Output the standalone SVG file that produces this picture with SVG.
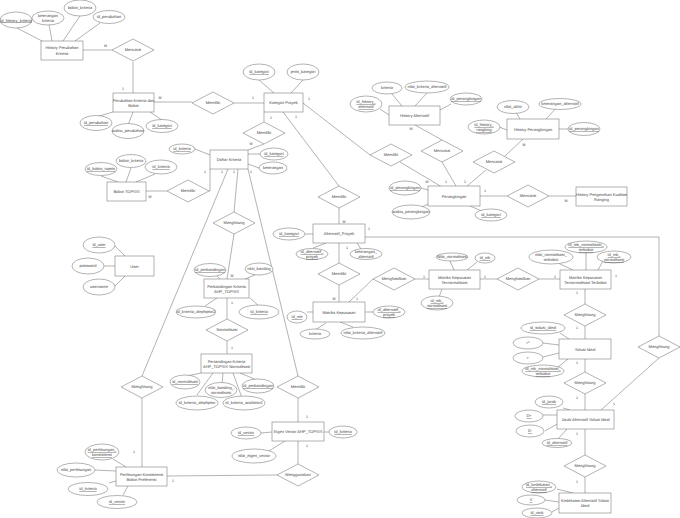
<svg xmlns="http://www.w3.org/2000/svg" width="680" height="518" viewBox="0 0 680 518">
<style>
text{font-family:"Liberation Sans",Arial,sans-serif;font-size:4px;fill:#444;text-anchor:middle;text-rendering:geometricPrecision}
.u{text-decoration:underline}
.e,.r,.d{fill:#fff;stroke:#666;stroke-width:.5}
#connectors path{fill:none;stroke:#666;stroke-width:.5}
.c{font-size:3.6px}
</style>
<rect width="680" height="518" fill="#fff"/>
<g id="connectors">
<path d="M17 28L42 41M49 24L52 41M80 16L63 41M100 23L75 41M83 50H112M133 62V93M154 102H192M234 103H264M113 112L96 117M133 112L128 125M150 112L162 120"/>
<path d="M259 80L274 93M303 80L291 93M264 112V122M264 144L248 150M303 103L370 155M400 162L442 187M283 112L339 186M339 208V224"/>
<path d="M387 88L402 106M427 93L415 106M380 109L389 115M451 104L440 110M415 125L442 140M442 162L456 186"/>
<path d="M513 107L520 119M560 104L546 119M499 127L507 130M568 129H559M505 156L523 139M486 170L466 187M480 196H507M549 196H576M421 188L428 190M411 212L428 204M491 215L470 206"/>
<path d="M195 149L210 155M260 154H248M259 168L248 164M210 169V191H209M146 191H167M101 176L118 182M131 168L126 182M155 174L136 182"/>
<path d="M115 246L125 256M104 266H115M115 286L125 276"/>
<path d="M228 169L142 376M142 398V467M238 169L234 212M234 234L227 279M248 169L298 376M227 298V319M227 341V354"/>
<path d="M216 275L220 279M245 279L255 275M205 306L217 298M260 307L250 298"/>
<path d="M187 376L201 373M197 395L213 373M222 385L223 373M242 398L233 373M257 380L240 373"/>
<path d="M113 459L126 467M95 470L116 471M109 483L116 481M123 495L128 486M167 476L277 475"/>
<path d="M298 398V422M298 441V464M261 433L272 432M269 451L285 441M329 432H324"/>
<path d="M305 234H313M313 248L326 243M361 249L357 243M339 243V263M339 285V302M307 312H313M326 323L315 330M353 327L340 322M365 312H373M349 302L373 279M415 279H429"/>
<path d="M450 261L454 270M477 262L467 270M439 297L442 289M480 279H497M539 279H560M586 253V270M558 263L573 270M603 261L598 270"/>
<path d="M585 289V304M585 326V339M585 359V372M585 394V410M585 429V455M585 477V493"/>
<path d="M560 333L569 339M543 343L559 345M543 357L559 353M558 367L568 359M563 408L570 410M543 415H557M545 431L557 424M558 439L567 429M557 489L573 493M545 500L559 502M552 512L559 508"/>
<path d="M365 237H659V336M659 358L601 410"/>
<g class="card">
<text class="c" x="105.500" y="47">M</text><text class="c" x="123" y="90">1</text><text class="c" x="160" y="99">M</text><text class="c" x="253" y="99">1</text>
<text class="c" x="309" y="100">1</text><text class="c" x="271" y="119">1</text><text class="c" x="296" y="118">1</text><text class="c" x="251" y="145">M</text>
<text class="c" x="411" y="130">M</text><text class="c" x="427" y="183">M</text><text class="c" x="446" y="183">1</text><text class="c" x="465" y="183">1</text><text class="c" x="524" y="146">M</text><text class="c" x="485" y="192">1</text><text class="c" x="566" y="202">M</text>
<text class="c" x="344" y="223">M</text><text class="c" x="369" y="230">1</text><text class="c" x="347" y="249">1</text><text class="c" x="334" y="300">M</text><text class="c" x="357" y="300">1</text><text class="c" x="424" y="278">1</text><text class="c" x="485" y="278">1</text>
<text class="c" x="555" y="278">1</text><text class="c" x="616" y="277">1</text><text class="c" x="577" y="294">1</text><text class="c" x="577" y="329">1</text><text class="c" x="577" y="364">1</text><text class="c" x="577" y="399">1</text><text class="c" x="614" y="405">1</text><text class="c" x="577" y="435">1</text><text class="c" x="577" y="483">1</text>
<text class="c" x="205" y="173">1</text><text class="c" x="222" y="173">1</text><text class="c" x="234" y="173">1</text><text class="c" x="251" y="173">1</text><text class="c" x="150" y="198">M</text><text class="c" x="232" y="277">M</text><text class="c" x="232" y="304">1</text><text class="c" x="232" y="349">1</text><text class="c" x="134" y="453">1</text><text class="c" x="173" y="482">1</text><text class="c" x="307" y="418">1</text><text class="c" x="307" y="447">1</text>
</g>
</g>
<g id="history-perubahan"><rect class="r" x="41" y="41" width="42" height="19"/><text x="62" y="49">History Perubahan</text><text x="62" y="55">Kriteria</text></g>
<g id="a-id-history-kriteria"><ellipse class="e" cx="16" cy="20" rx="16" ry="8"/><text class="u" x="16" y="21.500">id_history_kriteria</text></g>
<g id="a-keterangan-kriteria"><ellipse class="e" cx="48" cy="18" rx="16" ry="7"/><text x="48" y="16.500">keterangan</text><text x="48" y="21.500">kriteria</text></g>
<g id="a-bobot-kriteria"><ellipse class="e" cx="80" cy="8" rx="16" ry="8"/><text x="80" y="9.400">bobot_kriteria</text></g>
<g id="a-id-perubahan"><ellipse class="e" cx="109" cy="17" rx="16" ry="6.500"/><text x="109" y="18.400">id_perubahan</text></g>
<g id="r-mencatat-1"><polygon class="d" points="112,50 133,39 154,50 133,61"/><text x="133" y="51.400">Mencatat</text></g>
<g id="perubahan-kriteria"><rect class="r" x="113" y="93" width="41" height="19"/><text x="133.500" y="101.500">Perubahan Kriteria dan</text><text x="133.500" y="106.500">Bobot</text></g>
<g id="a-id-perubahan-2"><ellipse class="e" cx="96" cy="123" rx="16" ry="7.500"/><text class="u" x="96" y="124.400">id_perubahan</text></g>
<g id="a-waktu-perubahan"><ellipse class="e" cx="128" cy="131" rx="16" ry="7.500"/><text x="128" y="132.400">waktu_perubahan</text></g>
<g id="a-id-kategori-1"><ellipse class="e" cx="162" cy="126" rx="16" ry="6.500"/><text class="u" x="162" y="127.400">id_kategori</text></g>
<g id="r-memiliki-1"><polygon class="d" points="192,103 213,92 234,103 213,114"/><text x="213" y="104.400">Memiliki</text></g>
<g id="kategori-proyek"><rect class="r" x="264" y="93" width="39" height="19"/><text x="283.500" y="104">Kategori Proyek</text></g>
<g id="a-id-kategori-2"><ellipse class="e" cx="259" cy="72" rx="16" ry="8"/><text class="u" x="259" y="73.400">id_kategori</text></g>
<g id="a-jenis-kategori"><ellipse class="e" cx="303" cy="72" rx="16" ry="8"/><text x="303" y="73.400">jenis_kategori</text></g>
<g id="r-memiliki-2"><polygon class="d" points="243,133 264,122 285,133 264,144"/><text x="264" y="134.400">Memiliki</text></g>
<g id="r-memiliki-3"><polygon class="d" points="370,155 391,144 412,155 391,166"/><text x="391" y="156.400">Memiliki</text></g>
<g id="r-memiliki-4"><polygon class="d" points="318,197 339,186 360,197 339,208"/><text x="339" y="198.400">Memiliki</text></g>
<g id="history-alternatif"><rect class="r" x="389" y="106" width="51" height="19"/><text x="414.500" y="117">History Alternatif</text></g>
<g id="a-kriteria-ha"><ellipse class="e" cx="387" cy="88" rx="15" ry="6"/><text x="387" y="89.400">kriteria</text></g>
<g id="a-nilai-ha"><ellipse class="e" cx="427" cy="87" rx="22" ry="6"/><text x="427" y="88.400">nilai_kriteria_alternatif</text></g>
<g id="a-id-history-alternatif"><ellipse class="e" cx="366" cy="104" rx="16" ry="8"/><text class="u" x="366" y="103">id_history_</text><text class="u" x="366" y="108">alternatif</text></g>
<g id="a-id-perangkingan-1"><ellipse class="e" cx="466" cy="99" rx="16" ry="6"/><text class="u" x="466" y="100.400">id_perangkingan</text></g>
<g id="r-mencatat-2"><polygon class="d" points="421,151 442,140 463,151 442,162"/><text x="442" y="152.400">Mencatat</text></g>
<g id="history-perangkingan"><rect class="r" x="507" y="119" width="52" height="20"/><text x="533" y="130.500">History Perangkingan</text></g>
<g id="a-nilai-akhir"><ellipse class="e" cx="513" cy="107" rx="16" ry="6.500"/><text x="513" y="108.400">nilai_akhir</text></g>
<g id="a-ket-alt-1"><ellipse class="e" cx="560" cy="104" rx="21" ry="5.500"/><text x="560" y="105.400">keterangan_alternatif</text></g>
<g id="a-id-history-rangking"><ellipse class="e" cx="484" cy="127" rx="16" ry="7"/><text class="u" x="484" y="126">id_history_</text><text class="u" x="484" y="131">rangking</text></g>
<g id="a-id-perangkingan-2"><ellipse class="e" cx="584" cy="129" rx="16" ry="6.500"/><text class="u" x="584" y="130.400">id_perangkingan</text></g>
<g id="r-mencatat-3"><polygon class="d" points="473,162 494,151 515,162 494,173"/><text x="494" y="163.400">Mencatat</text></g>
<g id="perangkingan"><rect class="r" x="428" y="186" width="52" height="20"/><text x="454" y="197.500">Perangkingan</text></g>
<g id="a-id-perangkingan-3"><ellipse class="e" cx="405" cy="188" rx="16" ry="7"/><text class="u" x="405" y="189.400">id_perangkingan</text></g>
<g id="a-waktu-perangkingan"><ellipse class="e" cx="411" cy="212" rx="19" ry="7"/><text x="411" y="213.400">waktu_perangkingan</text></g>
<g id="a-id-kategori-3"><ellipse class="e" cx="491" cy="215" rx="16" ry="6"/><text class="u" x="491" y="216.400">id_kategori</text></g>
<g id="r-mencatat-4"><polygon class="d" points="507,196 528,185 549,196 528,207"/><text x="528" y="197.400">Mencatat</text></g>
<g id="history-pengecekan"><rect class="r" x="576" y="187" width="51" height="19"/><text x="601.500" y="195.500">History Pengecekan Kualitas</text><text x="601.500" y="200.500">Ranging</text></g>
<g id="daftar-kriteria"><rect class="r" x="210" y="150" width="38" height="19"/><text x="229" y="161">Daftar Kriteria</text></g>
<g id="a-id-kriteria-1"><ellipse class="e" cx="182" cy="149" rx="13" ry="5"/><text class="u" x="182" y="150.400">id_kriteria</text></g>
<g id="a-id-kategori-4"><ellipse class="e" cx="274" cy="154" rx="14" ry="6"/><text class="u" x="274" y="155.400">id_kategori</text></g>
<g id="a-keterangan"><ellipse class="e" cx="273" cy="168" rx="14" ry="6"/><text x="273" y="169.400">keterangan</text></g>
<g id="bobot-topsis"><rect class="r" x="107" y="182" width="39" height="19"/><text x="126.500" y="193">Bobot TOPSIS</text></g>
<g id="a-id-bobot"><ellipse class="e" cx="101" cy="169" rx="16" ry="6.500"/><text class="u" x="101" y="170.400">id_bobot_topsis</text></g>
<g id="a-bobot-kriteria-2"><ellipse class="e" cx="131" cy="161" rx="15" ry="6.500"/><text x="131" y="162.400">bobot_kriteria</text></g>
<g id="a-id-kriteria-2"><ellipse class="e" cx="161" cy="167" rx="16" ry="7"/><text class="u" x="161" y="168.400">id_kriteria</text></g>
<g id="r-memiliki-5"><polygon class="d" points="167,191 188,180 209,191 188,202"/><text x="188" y="192.400">Memiliki</text></g>
<g id="user"><rect class="r" x="115" y="256" width="39" height="20"/><text x="134.500" y="267.500">User</text></g>
<g id="a-id-user"><ellipse class="e" cx="99" cy="245" rx="16" ry="8"/><text class="u" x="99" y="246.400">id_user</text></g>
<g id="a-password"><ellipse class="e" cx="88" cy="266" rx="16" ry="8"/><text x="88" y="267.400">password</text></g>
<g id="a-username"><ellipse class="e" cx="99" cy="287" rx="16" ry="8"/><text x="99" y="288.400">username</text></g>
<g id="r-menghitung-1"><polygon class="d" points="213,223 234,212 255,223 234,234"/><text x="234" y="224.400">Menghitung</text></g>
<g id="perbandingan-kriteria"><rect class="r" x="204" y="279" width="45" height="19"/><text x="226.500" y="287.500">Perbandingan Kriteria</text><text x="226.500" y="292.500">AHP_TOPSIS</text></g>
<g id="a-id-perbandingan-1"><ellipse class="e" cx="210" cy="270" rx="16" ry="6.500"/><text class="u" x="210" y="271.400">id_perbandingan</text></g>
<g id="a-nilai-banding"><ellipse class="e" cx="259" cy="269" rx="14" ry="6"/><text x="259" y="270.400">nilai_banding</text></g>
<g id="a-id-kriteria-aleph2"><ellipse class="e" cx="196" cy="312" rx="20" ry="6"/><text x="196" y="313.400">id_kriteria_alephpisn2</text></g>
<g id="a-id-kriteria-3"><ellipse class="e" cx="259" cy="312" rx="20" ry="7"/><text class="u" x="259" y="313.400">id_kriteria</text></g>
<g id="r-normalisasi"><polygon class="d" points="206,330 227,319 248,330 227,341"/><text x="227" y="331.400">Normalisasi</text></g>
<g id="perbandingan-normalisasi"><rect class="r" x="201" y="354" width="51" height="19"/><text x="226.500" y="362.500">Pertandingan Kriteria</text><text x="226.500" y="367.500">AHP_TOPSIS Normalisasi</text></g>
<g id="a-id-normalisasi"><ellipse class="e" cx="185" cy="382" rx="15" ry="7"/><text class="u" x="185" y="383.400">id_normalisasi</text></g>
<g id="a-nilai-banding-norm"><ellipse class="e" cx="221" cy="390" rx="16" ry="7.500"/><text x="221" y="389">nilai_banding_</text><text x="221" y="394">normalisasi</text></g>
<g id="a-id-perbandingan-2"><ellipse class="e" cx="258" cy="386" rx="16" ry="7"/><text class="u" x="258" y="387.400">id_perbandingan</text></g>
<g id="a-id-kriteria-aleph"><ellipse class="e" cx="197" cy="403" rx="21" ry="7"/><text x="197" y="404.400">id_kriteria_alephpisn</text></g>
<g id="a-id-kriteria-anal"><ellipse class="e" cx="244" cy="403" rx="21" ry="7"/><text x="244" y="404.400">id_kriteria_analisisn2</text></g>
<g id="r-menghitung-2"><polygon class="d" points="121,387 142,376 163,387 142,398"/><text x="142" y="388.400">Menghitung</text></g>
<g id="perhitungan-konsistensi"><rect class="r" x="116" y="467" width="51" height="19"/><text x="141.500" y="475.500">Perhitungan Konsistensi</text><text x="141.500" y="480.500">Bobot Preferensi</text></g>
<g id="a-id-perhitungan"><ellipse class="e" cx="102" cy="452" rx="17" ry="8"/><text class="u" x="102" y="451">id_perhitungan_</text><text class="u" x="102" y="456">konsistensi</text></g>
<g id="a-nilai-perhitungan"><ellipse class="e" cx="76" cy="470" rx="19" ry="7"/><text x="76" y="471.400">nilai_perhitungan</text></g>
<g id="a-id-kriteria-4"><ellipse class="e" cx="88" cy="489" rx="20" ry="6.500"/><text class="u" x="88" y="490.400">id_kriteria</text></g>
<g id="a-id-vector-1"><ellipse class="e" cx="117" cy="502" rx="20" ry="6.500"/><text class="u" x="117" y="503.400">id_vector</text></g>
<g id="r-memiliki-6"><polygon class="d" points="277,387 298,376 319,387 298,398"/><text x="298" y="388.400">Memiliki</text></g>
<g id="eigen-vector"><rect class="r" x="272" y="422" width="52" height="19"/><text x="298" y="433">Eigen Vector AHP_TOPSIS</text></g>
<g id="a-id-vector-2"><ellipse class="e" cx="246" cy="433" rx="15" ry="6"/><text class="u" x="246" y="434.400">id_vector</text></g>
<g id="a-nilai-eigen"><ellipse class="e" cx="254" cy="456" rx="22" ry="7"/><text x="254" y="457.400">nilai_eigen_vector</text></g>
<g id="a-id-kriteria-5"><ellipse class="e" cx="343" cy="432" rx="14" ry="6"/><text class="u" x="343" y="433.400">id_kriteria</text></g>
<g id="r-menggunakan"><polygon class="d" points="277,475 298,464 319,475 298,486"/><text x="298" y="476.400">Menggunakan</text></g>
<g id="alternatif-proyek"><rect class="r" x="313" y="224" width="52" height="19"/><text x="339" y="235">Alternatif_Proyek</text></g>
<g id="a-id-kategori-5"><ellipse class="e" cx="289" cy="234" rx="16" ry="6"/><text class="u" x="289" y="235.400">id_kategori</text></g>
<g id="a-id-alternatif"><ellipse class="e" cx="312" cy="254" rx="16" ry="5.500"/><text class="u" x="312" y="253">id_alternatif_</text><text class="u" x="312" y="258">proyek</text></g>
<g id="a-ket-alt-2"><ellipse class="e" cx="366" cy="254" rx="16" ry="5.500"/><text x="366" y="253">keterangan_</text><text x="366" y="258">alternatif</text></g>
<g id="r-memiliki-7"><polygon class="d" points="318,274 339,263 360,274 339,285"/><text x="339" y="275.400">Memiliki</text></g>
<g id="matriks-keputusan"><rect class="r" x="313" y="302" width="52" height="20"/><text x="339" y="313.500">Matriks Keputusan</text></g>
<g id="a-id-me"><ellipse class="e" cx="297" cy="317" rx="10" ry="6"/><text class="u" x="297" y="318.400">id_me</text></g>
<g id="a-kriteria-mk"><ellipse class="e" cx="315" cy="334" rx="15" ry="5"/><text x="315" y="335.400">kriteria</text></g>
<g id="a-nilai-mk"><ellipse class="e" cx="363" cy="333" rx="22" ry="6"/><text x="363" y="334.400">nilai_kriteria_alternatif</text></g>
<g id="a-id-alt-proyek"><ellipse class="e" cx="389" cy="312" rx="16" ry="6"/><text class="u" x="389" y="311">id_alternatif_</text><text class="u" x="389" y="316">proyek</text></g>
<g id="r-menghasilkan-1"><polygon class="d" points="373,279 394,268 415,279 394,290"/><text x="394" y="280.400">Menghasilkan</text></g>
<g id="matriks-ternormalisasi"><rect class="r" x="429" y="270" width="51" height="19"/><text x="454.500" y="278.500">Matriks Keputusan</text><text x="454.500" y="283.500">Ternormalisasi</text></g>
<g id="a-nilai-norm"><ellipse class="e" cx="452" cy="257" rx="16" ry="4"/><text x="452" y="258.400">Nilai_normalisasi</text></g>
<g id="a-id-mk"><ellipse class="e" cx="485" cy="258" rx="10" ry="5"/><text class="u" x="485" y="259.400">id_mk</text></g>
<g id="a-id-mk-norm"><ellipse class="e" cx="437" cy="303" rx="16" ry="7"/><text class="u" x="437" y="302">id_mk_</text><text class="u" x="437" y="307">normalisasi</text></g>
<g id="r-menghasilkan-2"><polygon class="d" points="497,279 518,268 539,279 518,290"/><text x="518" y="280.400">Menghasilkan</text></g>
<g id="matriks-terbobot"><rect class="r" x="560" y="270" width="51" height="19"/><text x="585.500" y="278.500">Matriks Keputusan</text><text x="585.500" y="283.500">Ternormalisasi Terbobot</text></g>
<g id="a-id-mk-terbobot"><ellipse class="e" cx="586" cy="247" rx="21" ry="6"/><text class="u" x="586" y="246">id_mk_normalisasi_</text><text class="u" x="586" y="251">terbobot</text></g>
<g id="a-nilai-terbobot"><ellipse class="e" cx="551" cy="257" rx="22" ry="7"/><text x="551" y="256">nilai_normalisasi_</text><text x="551" y="261">terbobot</text></g>
<g id="a-id-mk-norm-2"><ellipse class="e" cx="614" cy="257" rx="17" ry="6"/><text class="u" x="614" y="256">id_mk_</text><text class="u" x="614" y="261">normalisasi</text></g>
<g id="r-menghitung-3"><polygon class="d" points="564,315 585,304 606,315 585,326"/><text x="585" y="316.400">Menghitung</text></g>
<g id="solusi-ideal"><rect class="r" x="559" y="339" width="52" height="20"/><text x="585" y="350.500">Solusi Ideal</text></g>
<g id="a-id-solusi"><ellipse class="e" cx="543" cy="328" rx="22" ry="6"/><text class="u" x="543" y="329.400">id_solusi_ideal</text></g>
<g id="a-r-plus"><ellipse class="e" cx="528" cy="343" rx="15" ry="6"/><text x="528" y="344.400">r*</text></g>
<g id="a-r-minus"><ellipse class="e" cx="528" cy="358" rx="15" ry="6"/><text x="528" y="359.400">r-</text></g>
<g id="a-id-mk-terbobot-2"><ellipse class="e" cx="543" cy="371" rx="21" ry="6"/><text class="u" x="543" y="370">id_mk_normalisasi_</text><text class="u" x="543" y="375">terbobot</text></g>
<g id="r-menghitung-4"><polygon class="d" points="564,383 585,372 606,383 585,394"/><text x="585" y="384.400">Menghitung</text></g>
<g id="r-menghitung-5"><polygon class="d" points="638,347 659,336 680,347 659,358"/><text x="659" y="348.400">Menghitung</text></g>
<g id="jarak-alternatif"><rect class="r" x="557" y="410" width="57" height="19"/><text x="585.500" y="421">Jarak Alternatif Solusi Ideal</text></g>
<g id="a-id-jarak"><ellipse class="e" cx="549" cy="402" rx="14" ry="6"/><text class="u" x="549" y="403.400">id_jarak</text></g>
<g id="a-d-plus"><ellipse class="e" cx="529" cy="416" rx="14" ry="6"/><text class="u" x="529" y="417.400">D+</text></g>
<g id="a-d-minus"><ellipse class="e" cx="530" cy="431" rx="14" ry="6"/><text class="u" x="530" y="432.400">D-</text></g>
<g id="a-id-alternatif-2"><ellipse class="e" cx="557" cy="443" rx="15" ry="4.500"/><text class="u" x="557" y="444.400">id_alternatif</text></g>
<g id="r-menghitung-6"><polygon class="d" points="564,466 585,455 606,466 585,477"/><text x="585" y="467.400">Menghitung</text></g>
<g id="kedekatan-alternatif"><rect class="r" x="559" y="493" width="52" height="20"/><text x="585" y="501.500">Kedekatan Alternatif Solusi</text><text x="585" y="506.500">Ideal</text></g>
<g id="a-id-kedekatan"><ellipse class="e" cx="539" cy="487" rx="17" ry="6"/><text class="u" x="539" y="486">id_kedekatan_</text><text class="u" x="539" y="491">alternatif</text></g>
<g id="a-v"><ellipse class="e" cx="531" cy="500" rx="14" ry="5"/><text class="u" x="531" y="501.400">V</text></g>
<g id="a-id-rank"><ellipse class="e" cx="537" cy="513" rx="15" ry="5"/><text class="u" x="537" y="514.400">id_rank</text></g>
</svg>
